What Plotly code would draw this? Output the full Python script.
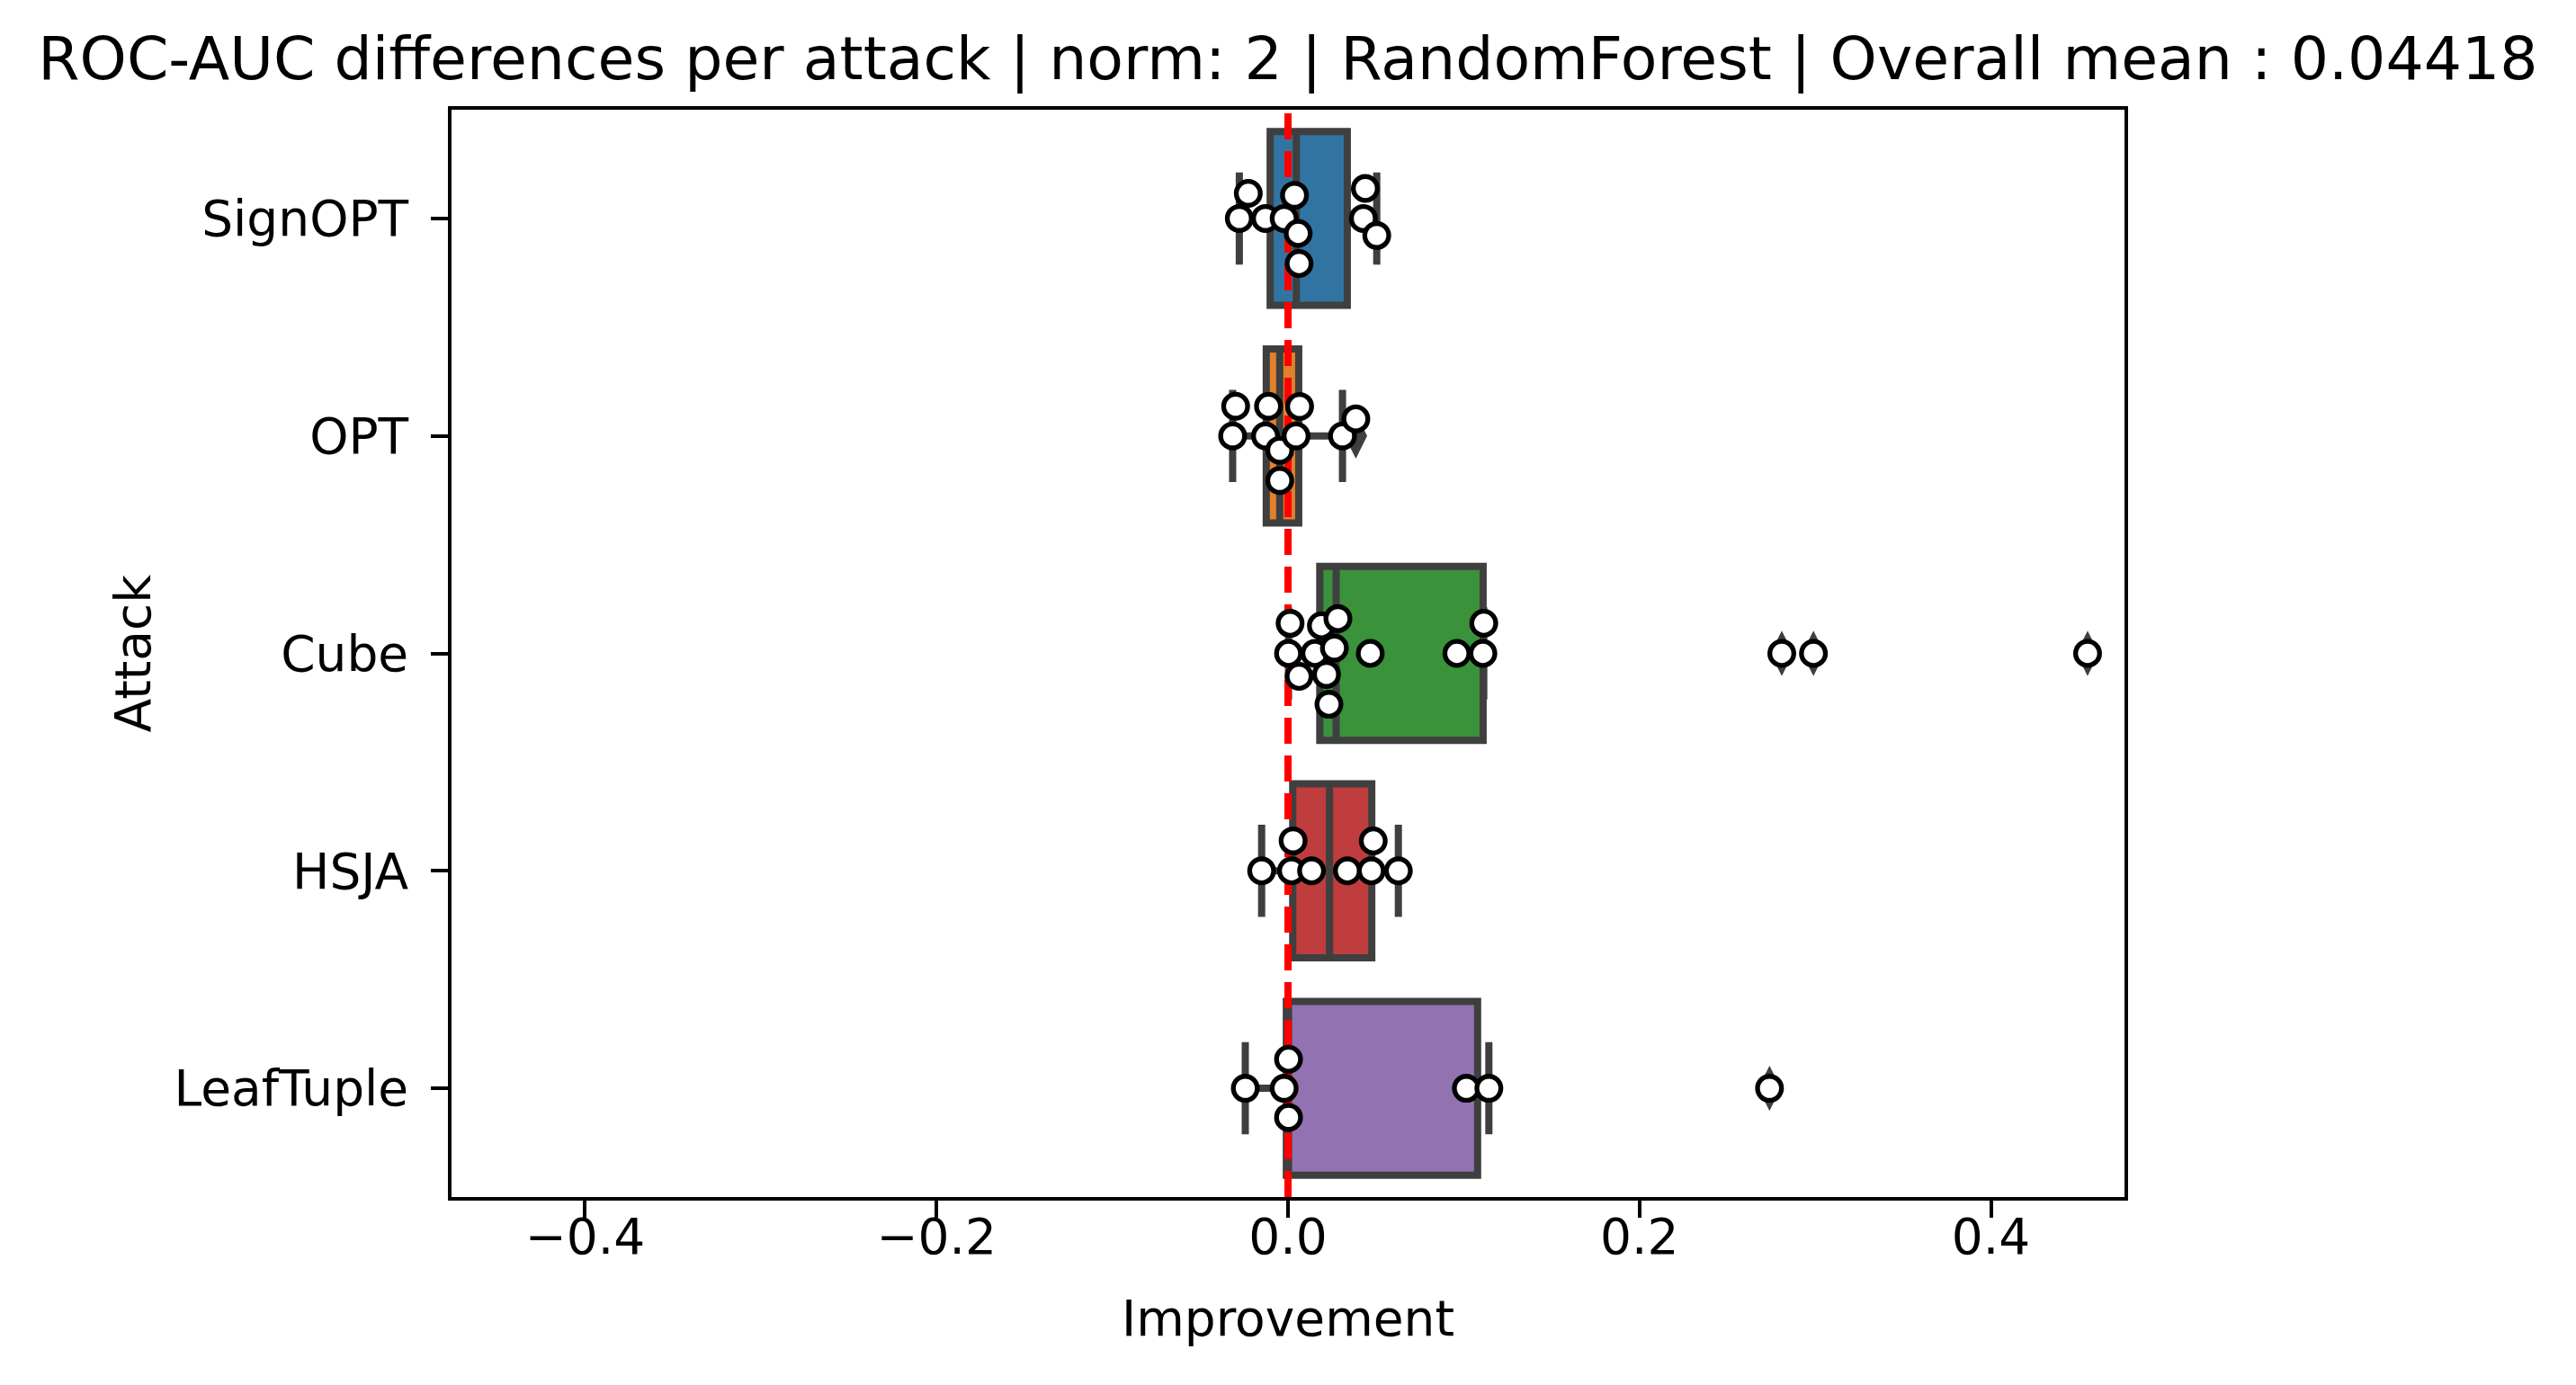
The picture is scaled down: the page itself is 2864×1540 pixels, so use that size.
import numpy as np
import plotly.graph_objects as go

# values (ROC-AUC improvement per run)
attacks = ["SignOPT", "OPT", "Cube", "HSJA", "LeafTuple"]
signopt = [-0.0277, -0.0226, -0.0128, -0.0022, 0.0037, 0.0058, 0.0063, 0.0429, 0.0440, 0.0505]
opt = [-0.0315, -0.0298, -0.0128, -0.0111, -0.0047, -0.0047, 0.0046, 0.0066, 0.0310, 0.0386]
cube = [0.0003, 0.0012, 0.0063, 0.0153, 0.0190, 0.0219, 0.0233, 0.0264, 0.0284, 0.0468,
        0.0961, 0.1109, 0.1114, 0.281, 0.299, 0.455]
hsja = [-0.0150, 0.0020, 0.0029, 0.0134, 0.0338, 0.0474, 0.0485, 0.0628]
leaftuple = [-0.0243, -0.0022, 0.0003, 0.0003, 0.1015, 0.1143, 0.274]
colors = ["#3274a1", "#e1812c", "#3a923a", "#c03d3e", "#9372b2"]
xticks = [-0.4, -0.2, 0.0, 0.2, 0.4]
xticklabels = ["\u22120.4", "\u22120.2", "0.0", "0.2", "0.4"]
title = "ROC-AUC differences per attack | norm: 2 | RandomForest | Overall mean : 0.04418"

series = [signopt, opt, cube, hsja, leaftuple]

W, H = 2864, 1540
# page body has an 8px margin, so shift the plot area up/left by that much
ML, MR, MT, MB = 494, 510, 114, 217
XLIM = 0.476
GRAY = "#3f3f3f"
PT = 5.33  # px per point
FS = 55

plot_w = W - ML - MR
plot_h = H - MT - MB

# swarm layout, like seaborn's beeswarm (computed against the data's autoscaled view)
allv = np.concatenate([np.array(s) for s in series])
span0 = (allv.max() - allv.min()) * 1.1
sx = plot_w / span0
py = plot_h / len(attacks)
D = 6 * PT


def swarm(vals):
    vals = np.asarray(vals)
    offs = np.zeros(len(vals))
    placed = []
    for idx in np.argsort(vals, kind="stable"):
        x = vals[idx] * sx
        nb = [(xj, oj) for xj, oj in placed if abs(x - xj) < D]
        cands = [0.0]
        up = True
        for xj, oj in nb:
            dy = np.sqrt(max(D ** 2 - (x - xj) ** 2, 0)) * 1.05
            cands += [oj - dy, oj + dy] if up else [oj + dy, oj - dy]
            up = not up
        cands.sort(key=abs)
        c = cands[0]
        for c in cands:
            if all((x - xj) ** 2 + (c - oj) ** 2 >= D ** 2 for xj, oj in nb):
                break
        placed.append((x, c))
        offs[idx] = c
    return offs / py


fig = go.Figure()

out_x, out_y, pts_x, pts_y = [], [], [], []
for i, (vals, col) in enumerate(zip(series, colors)):
    v = np.array(vals)
    q1, med, q3 = np.percentile(v, [25, 50, 75])
    iqr = q3 - q1
    inside = v[(v >= q1 - 1.5 * iqr) & (v <= q3 + 1.5 * iqr)]
    fig.add_trace(go.Box(
        y=[i], q1=[q1], median=[med], q3=[q3],
        lowerfence=[inside.min()], upperfence=[inside.max()],
        orientation="h", width=0.8, whiskerwidth=0.53,
        fillcolor=col, line=dict(color=GRAY, width=1.5 * PT),
        boxpoints=False, showlegend=False,
    ))
    for o in v[(v < inside.min()) | (v > inside.max())]:
        out_x.append(o)
        out_y.append(i)
    pts_x += list(v)
    pts_y += list(i + swarm(v))

# zero line
fig.add_trace(go.Scatter(
    x=[0, 0], y=[len(attacks) - 0.5, -0.5], mode="lines",
    line=dict(color="red", width=1.5 * PT, dash="29px,13px"),
    showlegend=False, hoverinfo="skip",
))
fig.add_trace(go.Scatter(
    x=out_x, y=out_y, mode="markers",
    marker=dict(symbol="diamond-tall", size=36, color=GRAY, line=dict(width=0)),
    showlegend=False,
))
fig.add_trace(go.Scatter(
    x=pts_x, y=pts_y, mode="markers",
    marker=dict(symbol="circle", size=5 * PT, color="white", line=dict(color="black", width=PT)),
    showlegend=False,
))

axis_style = dict(
    showline=True, linecolor="black", linewidth=0.8 * PT, mirror=True,
    ticks="outside", ticklen=3.5 * PT, tickwidth=0.8 * PT, tickcolor="black",
    showgrid=False, zeroline=False,
    tickfont=dict(size=FS, color="black"),
)

fig.update_layout(
    width=W, height=H,
    margin=dict(l=ML, r=MR, t=MT, b=MB, pad=0),
    paper_bgcolor="white", plot_bgcolor="white",
    font=dict(family="DejaVu Sans", color="black"),
    title=dict(text=title, font=dict(size=66.5, color="black"),
               x=0.5, xref="paper", xanchor="center",
               y=1 - 57 / H, yref="container", yanchor="middle"),
    xaxis=dict(range=[-XLIM, XLIM], tickvals=xticks, ticktext=xticklabels,
               ticklabelstandoff=-26, **axis_style),
    yaxis=dict(range=[len(attacks) - 0.5, -0.5], tickvals=list(range(len(attacks))),
               ticktext=attacks, ticklabelstandoff=14, **axis_style),
    annotations=[
        dict(text="Improvement", x=0.5, y=0, xref="paper", yref="paper",
             xanchor="center", yanchor="middle", yshift=-135, showarrow=False,
             font=dict(size=FS, color="black")),
        dict(text="Attack", x=0, y=0.5, xref="paper", yref="paper", textangle=-90,
             xanchor="center", yanchor="middle", xshift=-355, showarrow=False,
             font=dict(size=FS, color="black")),
    ],
)

fig.write_html("out.html")
